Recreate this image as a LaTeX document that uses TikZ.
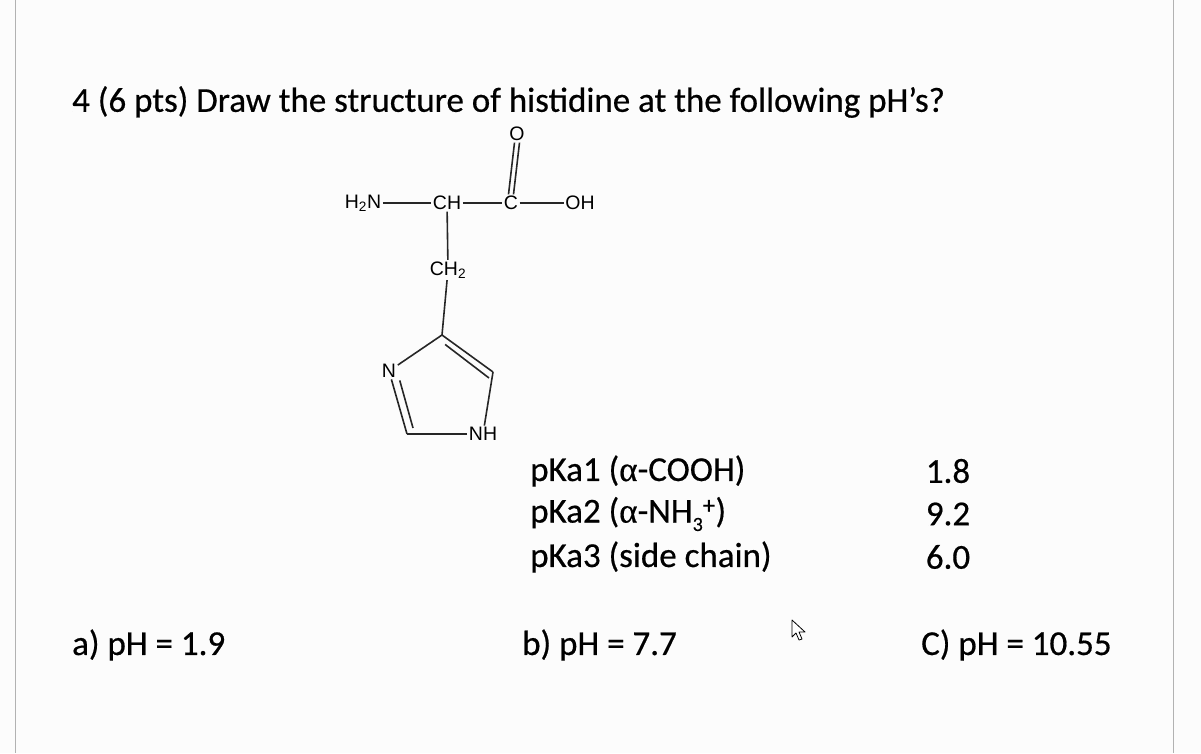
\documentclass[tikz,border=0pt]{standalone}
\usetikzlibrary{calc}
\usepackage{fontspec}
\setmainfont{Carlito}[FakeBold=0.5]
\newfontfamily\chem{Liberation Sans}
\newfontfamily\alphafont{Liberation Serif}[FakeBold=0.5]
\newcommand{\myalpha}{{\alphafont α}}
\begin{document}
\begin{tikzpicture}[x=1pt,y=-1pt,
  big/.style={font=\fontsize{35}{38}\selectfont, inner sep=0pt},
  atom/.style={font=\chem\fontsize{19.5}{21}\selectfont, inner sep=1.5pt},
  bond/.style={line width=1.6pt, black!85}]
\useasboundingbox (0,0) rectangle (1201,753);
\fill[white!99!black] (0,0) rectangle (1201,753);
\draw[gray!60, line width=1pt] (15,0) -- (15,753) (1173,0) -- (1173,753);
\node[big, anchor=west] (title) at (72,102) {4 (6 pts) Draw the structure of histidine at the following pH’s?};
% structure
\node[atom] (O) at (517,134) {O};
\node[atom] (N1) at (363,203) {H\textsubscript{2}N};
\node[atom] (CH) at (447,203) {CH};
\node[atom] (C) at (511,203) {C};
\node[atom] (OH) at (580,203) {OH};
\node[atom] (CH2) at (448,270) {CH\textsubscript{2}};
\coordinate (r1) at (442,335);
\coordinate (r2) at (493,372);
\node[atom] (NH) at (483,434) {NH};
\coordinate (r4) at (407,434);
\node[atom] (N) at (389,371) {N};
\draw[bond] (N1) -- (CH); \draw[bond] (CH) -- (C); \draw[bond] (C) -- (OH);
\draw[bond] ([xshift=-2.5pt]C.north) -- ([xshift=-2.5pt]O.south);
\draw[bond] ([xshift=2.5pt]C.north) -- ([xshift=2.5pt]O.south);
\draw[bond] (CH) -- (CH2); \draw[bond] (CH2) -- (r1);
\draw[bond] (r1) -- (r2); \draw[bond] ($(r1)!0.12!(r2)+(-3,5)$) -- ($(r2)+(-4,6)$);
\draw[bond] (r2) -- (NH); \draw[bond] (NH) -- (r4); \draw[bond] (r4) -- (N); \draw[bond] (N) -- (r1);
\draw[bond] ($(r4)+(6,-6)$) -- ($(N.south east)+(2,1)$);
% pKa table
\node[big, anchor=west] (p1) at (530,471) {pKa1 (\myalpha-COOH)};
\node[big, anchor=west] (p2) at (530,514) {pKa2 (\myalpha-NH\raisebox{-0.5ex}{\fontsize{20}{22}\selectfont 3}\textsuperscript{+})};
\node[big, anchor=west] (p3) at (530,557) {pKa3 (side chain)};
\node[big] (v1) at (948,471) {1.8};
\node[big] (v2) at (948,514) {9.2};
\node[big] (v3) at (948,557) {6.0};
\node[big, anchor=west] (a) at (72,645) {a) pH = 1.9};
\node[big, anchor=west] (b) at (522,645) {b) pH = 7.7};
\node[big, anchor=west] (c) at (921,645) {C) pH = 10.55};
% cursor
\draw[black, line width=0.8pt, fill=white, line join=round] (792,620) -- (792,637) -- (796,633) -- (799,640) -- (802,639) -- (799,632) -- (805,632) -- cycle;
\end{tikzpicture}
\end{document}
